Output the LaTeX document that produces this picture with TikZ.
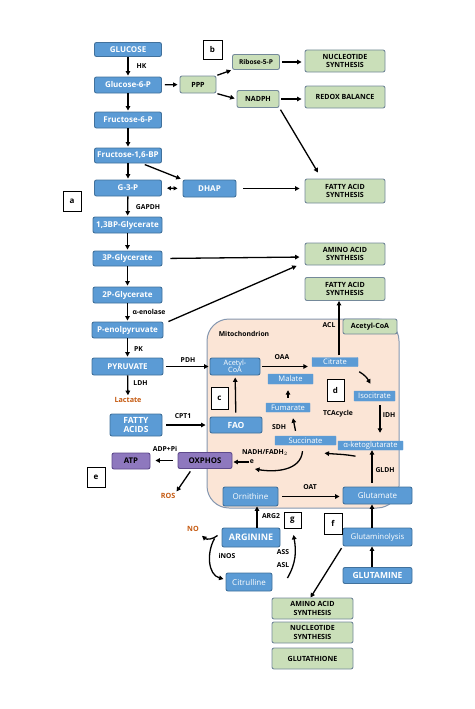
\documentclass[tikz,border=0pt]{standalone}
\usepackage{fontspec}
\setmainfont{Open Sans}
\usetikzlibrary{arrows.meta}
\definecolor{bfill}{HTML}{5B9BD5}
\definecolor{bdraw}{HTML}{41719C}
\definecolor{gfill}{HTML}{CADFB9}
\definecolor{gdraw}{HTML}{74899A}
\definecolor{pfill}{HTML}{8E78BE}
\definecolor{pdraw}{HTML}{5E4A8C}
\definecolor{mfill}{HTML}{FBE5D6}
\definecolor{mdraw}{HTML}{8497B0}
\definecolor{otext}{HTML}{C55A11}
\begin{document}
\begin{tikzpicture}[x=1pt,y=-1pt,
  sz/.style 2 args={minimum width=#1pt,minimum height=#2pt},
  bx/.style={rectangle,rounded corners=2pt,line width=0.9pt,inner sep=0pt,align=center},
  blue/.style={bx,fill=bfill,draw=bdraw,text=white,font=\fontsize{8}{9}\selectfont\bfseries},
  bluesm/.style={bx,fill=bfill,draw=bfill,text=white,rounded corners=0.5pt,line width=0.4pt,font=\fontsize{7.6}{8}\selectfont},
  grn/.style={bx,fill=gfill,draw=gdraw,text=black,font=\fontsize{7.1}{8.4}\selectfont\bfseries},
  pur/.style={bx,fill=pfill,draw=pdraw,text=black,font=\fontsize{7.8}{9}\selectfont\bfseries},
  lbl/.style={inner sep=0pt,font=\fontsize{6.8}{8}\selectfont\bfseries},
  olbl/.style={inner sep=0pt,text=otext,font=\fontsize{7.2}{8}\selectfont\bfseries},
  letter/.style={rectangle,draw=black,fill=white,line width=0.8pt,inner sep=0pt,font=\fontsize{8}{9}\selectfont\bfseries},
  arr/.style={line width=1.3pt,-{Triangle[length=4.5pt,width=4.5pt]}},
  darr/.style={line width=1.3pt,{Triangle[length=4pt,width=4pt]}-{Triangle[length=4pt,width=4pt]}}
]
\useasboundingbox (0,0) rectangle (474,709);
% mitochondrion
\draw[fill=mfill,draw=mdraw,line width=1pt,rounded corners=22pt] (207,319) rectangle (399,508);
\node[lbl] (mitolbl) at (244,334) {Mitochondrion};

% glycolysis column
\node[blue,sz={67}{14}] (glucose) at (128,49.5) {GLUCOSE};
\node[blue,sz={67}{16}] (g6p) at (128,85) {Glucose-6-P};
\node[blue,sz={67}{16}] (f6p) at (128,120) {Fructose-6-P};
\node[blue,sz={67}{15}] (f16bp) at (128,155.5) {Fructose-1,6-BP};
\node[blue,sz={67}{16}] (g3p) at (128,188) {G-3-P};
\node[blue,sz={69}{16}] (bpg) at (127.5,225) {1,3BP-Glycerate};
\node[blue,sz={69}{15}] (pg3) at (127.5,258.5) {3P-Glycerate};
\node[blue,sz={69}{16}] (pg2) at (127.5,295) {2P-Glycerate};
\node[blue,sz={71}{16}] (pep) at (127.5,330) {P-enolpyruvate};
\node[blue,sz={71}{17}] (pyr) at (127.5,366.5) {PYRUVATE};
\node[olbl] (lactate) at (128,400) {Lactate};
\node[blue,sz={52}{22},font=\fontsize{8.5}{9.5}\selectfont\bfseries] (fa) at (136,425) {FATTY\\ACIDS};
\node[pur,sz={38}{16}] (atp) at (131,461) {ATP};
\node[pur,sz={54}{16}] (oxphos) at (205,460.5) {OXPHOS};
\node[olbl] (ros) at (168,496) {ROS};

% PPP branch
\node[grn,sz={36}{17}] (ppp) at (198,84.5) {PPP};
\node[grn,sz={47}{15},font=\fontsize{6.6}{8}\selectfont\bfseries] (rib) at (256,62) {Ribose-5-P};
\node[grn,sz={42}{17}] (nadph) at (258,99) {NADPH};
\node[grn,sz={80}{22}] (nuc) at (345,61) {NUCLEOTIDE\\SYNTHESIS};
\node[grn,sz={80}{22}] (redox) at (345,97) {REDOX BALANCE};
\node[grn,sz={80}{24}] (fas1) at (345,191) {FATTY ACID\\SYNTHESIS};
\node[blue,sz={53}{17}] (dhap) at (209.5,188.5) {DHAP};
\node[grn,sz={80}{22}] (aas1) at (345,254) {AMINO ACID\\SYNTHESIS};
\node[grn,sz={80}{23}] (fas2) at (345,289) {FATTY ACID\\SYNTHESIS};
\node[grn,sz={54}{15}] (acoa) at (370,326.5) {Acetyl-CoA};

% mitochondrial nodes
\node[blue,sz={50}{17},font=\fontsize{7.3}{7.3}\selectfont] (acetyl) at (235,366.5) {Acetyl-\\CoA};
\node[blue,sz={52}{16},font=\fontsize{8.5}{9}\selectfont\bfseries] (fao) at (236,425) {FAO};
\node[bluesm,sz={46}{9}] (citrate) at (335,362) {Citrate};
\node[bluesm,sz={45}{10}] (malate) at (290.5,379) {Malate};
\node[bluesm,sz={44}{9}] (fumarate) at (288,407.5) {Fumarate};
\node[bluesm,sz={41}{10}] (isocitrate) at (374.5,396) {Isocitrate};
\node[bluesm,sz={61}{9}] (succinate) at (305.5,440.5) {Succinate};
\node[bluesm,sz={65}{9}] (akg) at (370.5,445.5) {α-ketoglutarate};
\node[blue,sz={55}{19},font=\fontsize{8}{9}\selectfont] (ornithine) at (250.5,496.5) {Ornithine};
\node[blue,sz={69}{17},font=\fontsize{8}{9}\selectfont] (glutamate) at (377.5,495.5) {Glutamate};

% arginine / glutamine
\node[blue,sz={58}{19},font=\fontsize{9}{10}\selectfont\bfseries] (arginine) at (251,537.5) {ARGININE};
\node[blue,sz={46}{18},font=\fontsize{8}{9}\selectfont] (citrulline) at (249,582) {Citrulline};
\node[blue,sz={69}{18},font=\fontsize{7.8}{9}\selectfont] (glutaminolysis) at (377.5,537) {Glutaminolysis};
\node[blue,sz={69}{16},font=\fontsize{8.5}{9}\selectfont\bfseries] (glutamine) at (377.5,575.5) {GLUTAMINE};
\node[grn,sz={81}{21}] (aas2) at (312.5,608.5) {AMINO ACID\\SYNTHESIS};
\node[grn,sz={81}{21}] (nuc2) at (312.5,632.5) {NUCLEOTIDE\\SYNTHESIS};
\node[grn,sz={81}{21}] (glut) at (312.5,658.5) {GLUTATHIONE};

% letter boxes
\node[letter,sz={18}{20}] (la) at (72,201) {a};
\node[letter,sz={19}{19}] (lb) at (212.5,49.5) {b};
\node[letter,sz={17}{22}] (lc) at (219.5,398) {c};
\node[letter,sz={17}{22}] (ld) at (335.5,390) {d};
\node[letter,sz={18}{20}] (le) at (96,477) {e};
\node[letter,sz={18}{21}] (lf) at (333,523.5) {f};
\node[letter,sz={17}{16}] (lg) at (292.5,520.5) {g};

% labels
\node[lbl] (hk) at (141.5,66) {HK};
\node[lbl] (gapdh) at (148,207) {GAPDH};
\node[lbl] (enol) at (149,312) {α-enolase};
\node[lbl] (pk) at (138.5,349) {PK};
\node[lbl] (ldh) at (140.5,383) {LDH};
\node[lbl] (pdh) at (188,360) {PDH};
\node[lbl] (cpt1) at (183,416) {CPT1};
\node[lbl] (adp) at (165,449) {ADP+Pi};
\node[lbl] (oaa) at (282,357) {OAA};
\node[lbl] (acl) at (329,325) {ACL};
\node[lbl] (tca) at (338,414) {TCAcycle};
\node[lbl] (idh) at (389,415) {IDH};
\node[lbl] (sdh) at (279,427) {SDH};
\node[lbl] (gldh) at (385,470) {GLDH};
\node[lbl] (oat) at (310,487) {OAT};
\node[lbl] (nadh) at (265,453) {NADH/FADH$_2$};
\node[lbl] (elbl) at (252,462) {e};
\node[olbl] (no) at (193,529) {NO};
\node[lbl] (arg2) at (271,516) {ARG2};
\node[lbl] (inos) at (227,556) {iNOS};
\node[lbl] (ass) at (283,552) {ASS};
\node[lbl] (asl) at (283,565) {ASL};

% glycolysis arrows
\draw[arr,shorten >=1pt] (glucose) -- (g6p);
\draw[arr,shorten >=1pt] (g6p) -- (f6p);
\draw[arr,shorten >=1pt] (f6p) -- (f16bp);
\draw[arr,shorten >=1pt] (f16bp) -- (g3p);
\draw[arr,shorten >=1pt] (g3p) -- (bpg);
\draw[arr,shorten >=1pt] (bpg) -- (pg3);
\draw[arr,shorten >=1pt] (pg3) -- (pg2);
\draw[arr,shorten >=1pt] (pg2) -- (pep);
\draw[arr,shorten >=1pt] (pep) -- (pyr);
\draw[arr,shorten >=2pt] (pyr) -- (lactate);

% PPP arrows
\draw[arr,shorten <=3pt,shorten >=2pt] (g6p) -- (ppp);
\draw[arr,shorten <=1pt,shorten >=1pt] (ppp.north east) -- (rib.south west);
\draw[arr,shorten <=1pt,shorten >=2pt] (ppp.south east) -- (nadph.west);
\draw[arr,shorten <=2pt,shorten >=3pt] (rib.east) -- (rib.east -| nuc.west);
\draw[arr,shorten <=2pt,shorten >=3pt] (nadph.east) -- (nadph.east -| redox.west);
\draw[arr,shorten <=2pt] (nadph.south east) -- ([xshift=-27pt,yshift=6pt]fas1.north);
\draw[arr,shorten <=3pt,shorten >=2pt] ([xshift=-20pt]f16bp.south east) -- (dhap.north west);
\draw[darr,shorten <=5pt,shorten >=5pt] (g3p.east) -- (dhap.west);
\draw[arr,shorten <=7pt,shorten >=5pt] (dhap.east) -- (dhap.east -| fas1.west);
\draw[arr,shorten <=8pt,shorten >=5pt] (pg3.east) -- ([yshift=-3pt]aas1.west);
\draw[arr,shorten >=1pt] ([xshift=5pt]pep.north east) -- ([xshift=-7pt]aas1.south west);

% pyruvate, fatty acids, oxphos
\draw[arr,shorten <=3pt,shorten >=1pt] (pyr.east) -- (pyr.east -| acetyl.west);
\draw[arr,shorten <=4pt,shorten >=4pt] (fa.east) -- (fa.east -| fao.west);
\draw[arr,shorten <=4pt,shorten >=2pt] (fao) -- (acetyl);
\draw[arr,shorten <=5pt,shorten >=5pt] (oxphos.west) -- (oxphos.west -| atp.east);
\draw[arr,shorten <=3pt,shorten >=2pt] ([xshift=-13pt]oxphos.south) -- (ros.north east);

% TCA cycle
\draw[arr,shorten <=2pt,shorten >=4pt] (acetyl.east) -- (acetyl.east -| citrate.west);
\draw[arr,shorten <=2pt] ([xshift=-6pt]fas2.south |- citrate.north) -- ([xshift=-6pt]fas2.south);
\draw[arr] ([xshift=1pt,yshift=-5pt]citrate.south east) to[out=-30,in=120] ([xshift=-4pt,yshift=7pt]isocitrate.north);
\draw[arr,shorten <=4pt,shorten >=8pt] ([xshift=5.5pt]isocitrate.south) -- ([xshift=5.5pt]isocitrate.south |- akg.north);
\draw[arr] ([xshift=-15pt,yshift=-6pt]akg.south) to[out=170,in=-5] ([xshift=19pt,yshift=-8pt]succinate.south);
\draw[arr] ([xshift=-10pt,yshift=5pt]succinate.north) -- ([xshift=5pt,yshift=-6pt]fumarate.south);
\draw[arr,shorten <=5pt,shorten >=6pt] (fumarate.north) -- (fumarate.north |- malate.south);
\draw[arr] ([xshift=-3pt,yshift=-6pt]succinate.south) to[out=-95,in=-10] ([xshift=3pt,yshift=-7pt]elbl.center);
\draw[arr,shorten <=1pt,shorten >=1pt] (elbl.west) -- (elbl.west -| oxphos.east);
\draw[arr,shorten <=4pt] ([xshift=-5.5pt]glutamate.north) -- ([xshift=-5.5pt]glutamate.north |- akg.south);
\draw[arr,shorten <=4pt,shorten >=3pt] (ornithine.east) -- (ornithine.east -| glutamate.west);

% urea / glutamine
\draw[arr] ([xshift=6pt]arginine.north) -- ([xshift=6pt]arginine.north |- ornithine.south);
\draw[arr] ([xshift=-5.5pt]glutaminolysis.north) -- ([xshift=-5.5pt]glutaminolysis.north |- glutamate.south);
\draw[arr] ([xshift=-5.5pt]glutamine.north) -- ([xshift=-5.5pt]glutamine.north |- glutaminolysis.south);
\draw[arr,shorten <=2pt] (glutaminolysis.south west) -- ([xshift=-2pt]aas2.north);
\draw[arr] ([xshift=-4pt,yshift=2pt]arginine.west) to[out=220,in=-40] ([xshift=3pt,yshift=-4pt]no.south east);
\draw[arr] ([xshift=-7pt,yshift=-1pt]arginine.west) to[out=240,in=165] ([xshift=-2pt,yshift=3pt]citrulline.west);
\draw[arr] ([xshift=15pt,yshift=4pt]citrulline.east) to[out=60,in=-80] ([xshift=1pt,yshift=-6pt]lg.south);
\end{tikzpicture}
\end{document}
